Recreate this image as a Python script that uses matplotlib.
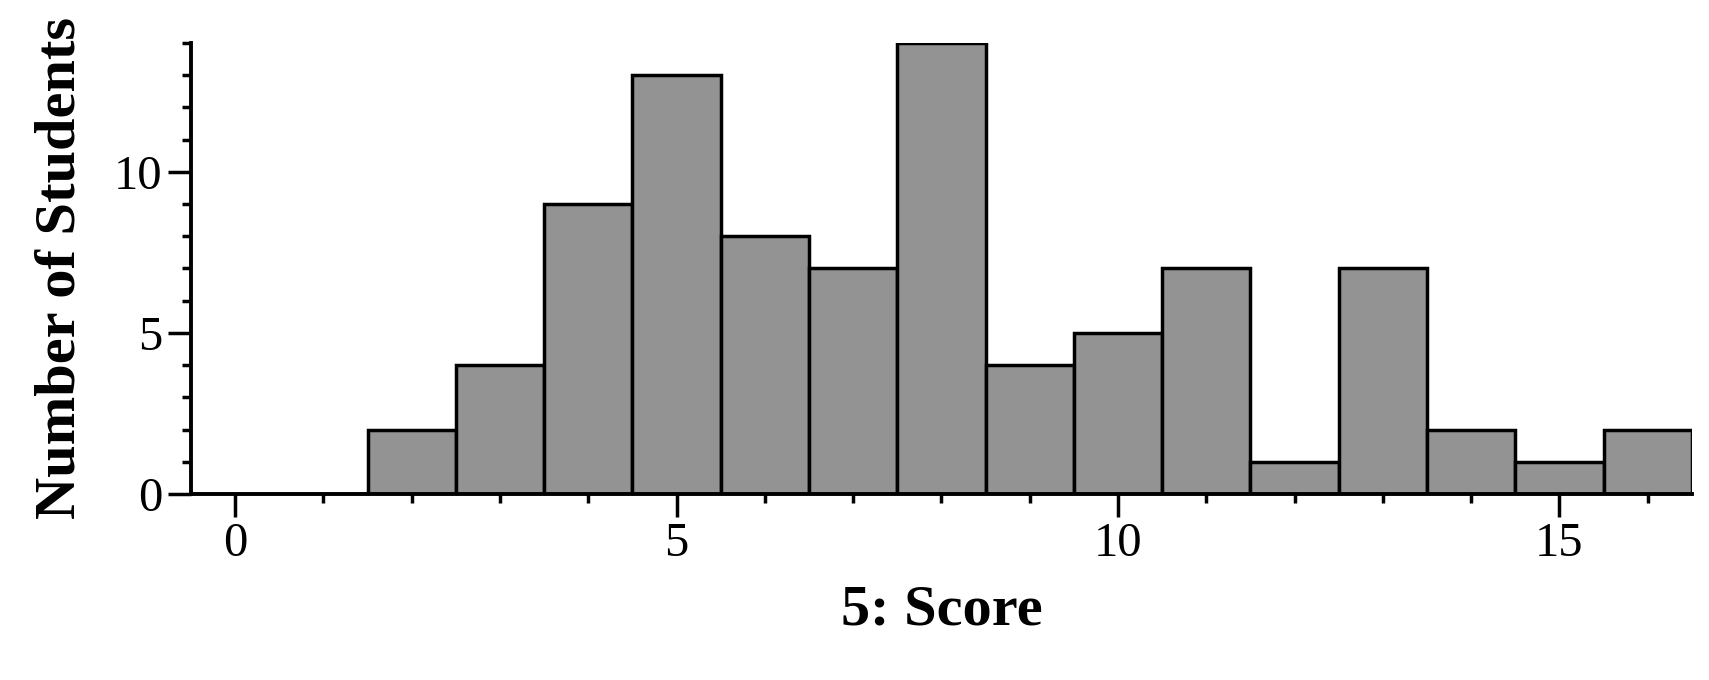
import numpy as np
import matplotlib.pyplot as plt
from matplotlib.ticker import MultipleLocator

# histogram of scores: one bin per integer score
scores = [0, 1, 2, 3, 4, 5, 6, 7, 8, 9, 10, 11, 12, 13, 14, 15, 16]
counts = [0, 0, 2, 4, 9, 13, 8, 7, 14, 4, 5, 7, 1, 7, 2, 1, 2]
x_ticks = [0, 5, 10, 15]
y_ticks = [0, 5, 10]

plt.rcParams['font.family'] = ['Liberation Serif', 'DejaVu Serif']

fig = plt.figure(figsize=(17.09, 6.8), dpi=100)
ax = fig.add_axes([0.1118, 0.2735, 0.9900 - 0.1118, 0.9368 - 0.2735])

ax.bar(scores, counts, width=1.0, color='#939393', edgecolor='black',
       linewidth=2.5, zorder=2)

ax.set_xlim(-0.5, 16.5)
ax.set_ylim(0, 14)

ax.spines['top'].set_visible(False)
ax.spines['right'].set_visible(False)
ax.spines['left'].set_linewidth(2.8)
ax.spines['bottom'].set_linewidth(2.8)

ax.set_xticks(x_ticks)
ax.set_yticks(y_ticks)
ax.xaxis.set_minor_locator(MultipleLocator(1))
ax.yaxis.set_minor_locator(MultipleLocator(1))
ax.tick_params(which='major', length=16.5, width=2.5, labelsize=35, pad=4)
ax.tick_params(which='minor', length=6.5, width=2.5)

ax.set_xlabel('5: Score', fontsize=42, fontweight='bold', labelpad=13)
ax.set_ylabel('Number of Students', fontsize=42, fontweight='bold')
ax.yaxis.set_label_coords(-0.070, 0.5)

fig.savefig('out.png', dpi=100)
